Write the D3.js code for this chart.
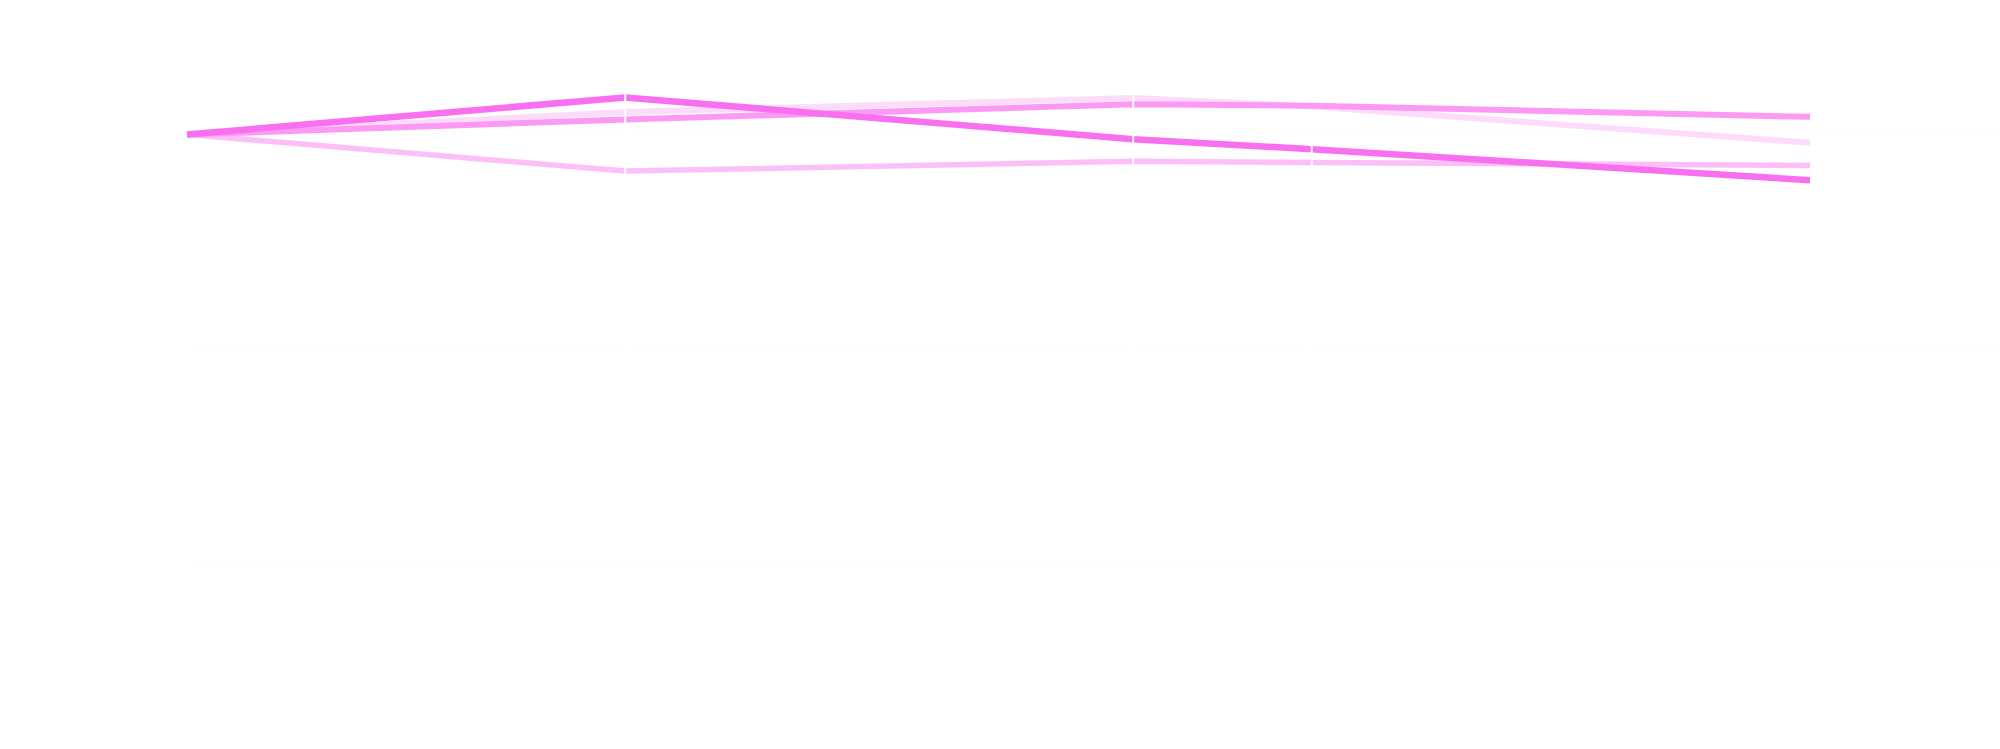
<!DOCTYPE html>
<html>
<head>
<meta charset="utf-8">
<script src="https://cdn.jsdelivr.net/npm/d3@7"></script>
<style>
  html, body { margin: 0; padding: 0; background: #ffffff; }
  svg { display: block; }
</style>
</head>
<body>
<svg id="chart" width="2000" height="749"></svg>
<script>
// ---- data ----
const xPoints = [0, 27, 58.3, 69.3, 100];
const seriesLowerLight = [100, 91.5, 93.8, 93.5, 92.8];
const seriesLightest   = [100, 105.2, 108.5, 106.5, 98.1];
const seriesMedium     = [100, 103.5, 107.0, 106.7, 104.1];
const seriesDark       = [100, 108.6, 98.9, 96.6, 89.4];
const gridValues = [0, 50, 100];
const markerX   = [27, 58.3, 69.3];
const markerTop = [112, 112, 100];

// ---- layout ----
const svg = d3.select("#chart");
const W = 2000, H = 749;
const x = d3.scaleLinear().domain([0, 100]).range([187, 1810]);
const y = d3.scaleLinear().domain([0, 100]).range([565, 134.5]);

// gridlines (nearly invisible, as in the reference)
svg.append("g")
  .selectAll("line")
  .data(gridValues)
  .join("line")
  .attr("x1", 189).attr("x2", W)
  .attr("y1", d => y(d)).attr("y2", d => y(d))
  .attr("stroke", "#fbfbfb")
  .attr("stroke-width", 1);

const series = [
  { values: seriesLowerLight, color: "#fdbffa", width: 5.5 },
  { values: seriesLightest,   color: "#fcdcfa", width: 6 },
  { values: seriesMedium,     color: "#fc99f5", width: 6 },
  { values: seriesDark,       color: "#f870ef", width: 6.5 }
];

const line = d3.line()
  .x((d, i) => x(xPoints[i]))
  .y(d => y(d));

svg.append("g")
  .selectAll("path")
  .data(series)
  .join("path")
  .attr("d", d => line(d.values))
  .attr("fill", "none")
  .attr("stroke", d => d.color)
  .attr("stroke-width", d => d.width)
  .attr("stroke-linejoin", "miter")
  .attr("stroke-linecap", "butt");

// white vertical rules at interior points
svg.append("g")
  .selectAll("line")
  .data(markerX)
  .join("line")
  .attr("x1", d => x(d)).attr("x2", d => x(d))
  .attr("y1", (d, i) => y(markerTop[i]))
  .attr("y2", y(0))
  .attr("stroke", "#ffffff")
  .attr("stroke-width", 2);
</script>
</body>
</html>
